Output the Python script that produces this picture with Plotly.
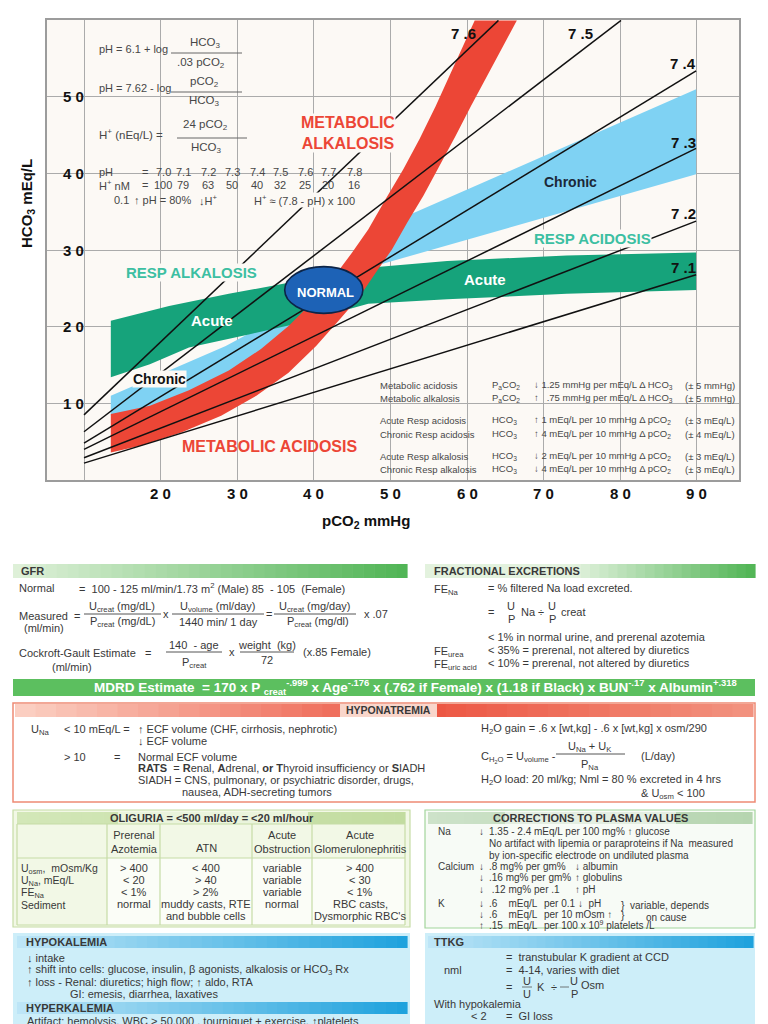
import plotly.graph_objects as go

W, H = 768, 1024
FONT = "Liberation Sans, Arial, Helvetica, sans-serif"
NARROW = "Liberation Sans Narrow, Liberation Sans, Arial, sans-serif"
CREAM = "#fcf9f5"
TXT = "#383838"

# ---------------- data ----------------
# pH isopleths: start / end points (pCO2 mmHg, HCO3 mEq/L)
ph_labels = ["7 .6", "7 .5", "7 .4", "7 .3", "7 .2", "7 .1"]
ph_x0 = [10, 10, 10, 10, 10, 10]
ph_y0 = [8.5, 6.3, 4.8, 4.0, 2.9, 2.2]
ph_x1 = [64.1, 80.1, 89.9, 89.9, 89.9, 89.9]
ph_y1 = [60.0, 60.0, 53.4, 43.3, 33.8, 26.8]

# metabolic band (red): upper-left edge then lower-right edge
met_up_x = [13.5, 18.6, 23.7, 28.9, 33.1, 36.7, 39.8, 42.4, 45.0, 47.1, 49.4, 51.7, 53.8, 55.9, 57.9, 59.7, 61.0]
met_up_y = [8.6, 9.7, 11.7, 14.3, 17.1, 20.1, 23.2, 26.2, 29.7, 32.7, 36.7, 40.6, 44.5, 48.8, 53.2, 57.1, 60.0]
met_lo_x = [66.5, 64.7, 62.6, 60.5, 58.5, 56.4, 54.3, 52.2, 50.2, 48.1, 46.0, 43.4, 40.3, 36.7, 32.5, 27.9, 22.7, 17.5, 13.5]
met_lo_y = [60.0, 56.7, 52.7, 48.8, 44.9, 41.0, 37.1, 33.6, 30.1, 27.1, 24.0, 21.0, 17.5, 14.0, 11.0, 8.4, 6.2, 4.5, 3.6]

# chronic respiratory band (light blue)
chr_up_x = [13.5, 18.6, 23.7, 28.5, 35.0, 42.0, 47.0, 52.2, 89.9]
chr_up_y = [11.0, 13.2, 15.4, 17.5, 21.0, 26.0, 30.0, 34.5, 51.0]
chr_lo_x = [89.9, 47.5, 44.0, 40.0, 33.0, 25.0, 13.5]
chr_lo_y = [39.9, 27.8, 24.0, 18.0, 13.0, 10.0, 8.4]

# acute respiratory band (green)
acu_up_x = [13.5, 21.1, 28.9, 35.7, 47.1, 57.4, 73.0, 89.9]
acu_up_y = [20.8, 22.7, 24.3, 25.6, 27.7, 28.6, 29.3, 29.7]
acu_lo_x = [89.9, 73.0, 57.4, 47.1, 37.7, 31.5, 23.7, 18.6, 13.5]
acu_lo_y = [24.8, 24.3, 23.6, 23.0, 20.4, 19.0, 17.3, 15.1, 13.4]

# normal ellipse (centre and half-axes)
normal_cx, normal_cy = 41.3, 24.8
normal_rx, normal_ry = 5.1, 3.05

x_ticks = [20, 30, 40, 50, 60, 70, 80, 90]
y_ticks = [10, 20, 30, 40, 50]

ph_table = ["7.0", "7.1", "7.2", "7.3", "7.4", "7.5", "7.6", "7.7", "7.8"]
hplus_table = ["100", "79", "63", "50", "40", "32", "25", "20", "16"]

comp_rows = [
    ("Metabolic acidosis", "P<sub>a</sub>CO<sub>2</sub>", "↓ 1.25 mmHg per mEq/L Δ HCO<sub>3</sub>", "(± 5 mmHg)"),
    ("Metabolic alkalosis", "P<sub>a</sub>CO<sub>2</sub>", "↑   .75 mmHg per mEq/L Δ HCO<sub>3</sub>", "(± 5 mmHg)"),
    ("Acute Resp acidosis", "HCO<sub>3</sub>", "↑ 1 mEq/L per 10 mmHg Δ pCO<sub>2</sub>", "(± 3 mEq/L)"),
    ("Chronic Resp acidosis", "HCO<sub>3</sub>", "↑ 4 mEq/L per 10 mmHg Δ pCO<sub>2</sub>", "(± 4 mEq/L)"),
    ("Acute Resp alkalosis", "HCO<sub>3</sub>", "↓ 2 mEq/L per 10 mmHg Δ pCO<sub>2</sub>", "(± 3 mEq/L)"),
    ("Chronic Resp alkalosis", "HCO<sub>3</sub>", "↓ 4 mEq/L per 10 mmHg Δ pCO<sub>2</sub>", "(± 3 mEq/L)"),
]

olig_cols = ["Prerenal<br>Azotemia", "ATN", "Acute<br>Obstruction", "Acute<br>Glomerulonephritis"]
olig_rows = ["U<sub>osm</sub>,  mOsm/Kg", "U<sub>Na</sub>, mEq/L", "FE<sub>Na</sub>", "Sediment"]
olig_vals = [
    ["&gt; 400", "&lt; 20", "&lt; 1%", "normal"],
    ["&lt; 400", "&gt; 40", "&gt; 2%", "muddy casts, RTE", "and bubble cells"],
    ["variable", "variable", "variable", "normal"],
    ["&gt; 400", "&lt; 30", "&lt; 1%", "RBC casts,", "Dysmorphic RBC's"],
]

# ---------------- helpers (pixel placement on the page) ----------------
ann, shapes = [], []


def P(px):
    return px / W


def Q(py):
    return 1 - py / H


def T(x, y, s, size=11, color=TXT, anchor="left", family=FONT, bg=None, bold=False, angle=0):
    if bold:
        s = "<b>" + s + "</b>"
    d = dict(xref="paper", yref="paper", x=P(x), y=Q(y), text=s, showarrow=False,
             xanchor=anchor, yanchor="middle", borderpad=0,
             font=dict(family=family, size=size, color=color))
    if bg:
        d["bgcolor"] = bg
    if angle:
        d["textangle"] = angle
    ann.append(d)


def R(x0, y0, x1, y1, fill=None, line=None, lw=1, layer="below"):
    shapes.append(dict(type="rect", xref="paper", yref="paper", x0=P(x0), x1=P(x1), y0=Q(y0), y1=Q(y1),
                       fillcolor=fill or "rgba(0,0,0,0)",
                       line=dict(color=line or "rgba(0,0,0,0)", width=lw if line else 0), layer=layer))


def L(x0, y0, x1, y1, color="#555555", lw=1, layer="above"):
    shapes.append(dict(type="line", xref="paper", yref="paper", x0=P(x0), x1=P(x1), y0=Q(y0), y1=Q(y1),
                       line=dict(color=color, width=lw), layer=layer))


def _hex(c):
    c = c.lstrip("#")
    return [int(c[i:i + 2], 16) for i in (0, 2, 4)]


def _col(stops, t):
    for (t0, c0), (t1, c1) in zip(stops[:-1], stops[1:]):
        if t0 <= t <= t1:
            f = 0 if t1 == t0 else (t - t0) / (t1 - t0)
            a, b = _hex(c0), _hex(c1)
            return "rgb(%d,%d,%d)" % tuple(round(a[i] + (b[i] - a[i]) * f) for i in range(3))
    return stops[-1][1]


def G(x0, y0, x1, y1, stops, n=36):
    w = (x1 - x0) / n
    for i in range(n):
        R(x0 + i * w, y0, x0 + (i + 1) * w + 0.6, y1, fill=_col(stops, (i + 0.5) / n))


# ---------------- chart traces ----------------
fig = go.Figure()
fig.add_trace(go.Scatter(x=chr_up_x + chr_lo_x, y=chr_up_y + chr_lo_y, fill="toself",
                         fillcolor="#7fd2f3", line=dict(width=0), mode="lines", hoverinfo="skip"))
fig.add_trace(go.Scatter(x=acu_up_x + acu_lo_x, y=acu_up_y + acu_lo_y, fill="toself",
                         fillcolor="#16a37b", line=dict(width=0), mode="lines", hoverinfo="skip"))
fig.add_trace(go.Scatter(x=met_up_x + met_lo_x, y=met_up_y + met_lo_y, fill="toself",
                         fillcolor="#ec4636", line=dict(width=0), mode="lines", hoverinfo="skip"))
for i in range(len(ph_labels)):
    fig.add_trace(go.Scatter(x=[ph_x0[i], ph_x1[i]], y=[ph_y0[i], ph_y1[i]], mode="lines",
                             line=dict(color="#111111", width=1.5), hoverinfo="skip"))

shapes.append(dict(type="circle", xref="x", yref="y",
                   x0=normal_cx - normal_rx, x1=normal_cx + normal_rx,
                   y0=normal_cy - normal_ry, y1=normal_cy + normal_ry,
                   fillcolor="#1d62b6", line=dict(color="#0c2447", width=1.6), layer="above"))

# ---------------- chart text ----------------
CT = "#474747"
CS = 11.5
T(98, 49, "pH = 6.1 + log", color=CT, size=11)
T(205, 43, "HCO<sub>3</sub>", color=CT, anchor="center", size=CS)
L(171, 53, 242, 53, color="#666666")
T(201, 63, ".03 pCO<sub>2</sub>", color=CT, anchor="center", size=CS)
T(98, 88, "pH = 7.62 - log", color=CT, size=11)
T(204, 82, "pCO<sub>2</sub>", color=CT, anchor="center", size=CS)
L(171, 92, 242, 92, color="#666666")
T(204, 101, "HCO<sub>3</sub>", color=CT, anchor="center", size=CS)
T(98, 134, "H<sup>+</sup> (nEq/L) =", color=CT, size=CS)
T(205, 125, "24 pCO<sub>2</sub>", color=CT, anchor="center", size=CS)
L(177, 138, 247, 138, color="#666666")
T(206, 148, "HCO<sub>3</sub>", color=CT, anchor="center", size=CS)
T(98, 172, "pH", color=CT)
T(141, 172, "=", color=CT)
T(98, 185, "H<sup>+</sup> nM", color=CT)
T(141, 185, "=", color=CT)
ph_pos = [163, 183, 208, 232, 257, 280, 305, 328, 354]
for px, a, b in zip(ph_pos, ph_table, hplus_table):
    T(px, 172, a, color=CT, anchor="center")
    T(px, 185, b, color=CT, anchor="center")
T(113, 200, "0.1", color=CT)
T(133, 200, "↑ pH = 80%", color=CT)
T(198, 200, "↓H<sup>+</sup>", color=CT)
T(253, 200, "H<sup>+</sup> ≈ (7.8 - pH) x 100", color=CT, bg=CREAM)

RED = "#ec4636"
TEAL = "#3cbfa2"
T(348, 133, "METABOLIC<br>ALKALOSIS", size=16, color=RED, anchor="center", bold=True, bg=CREAM)
T(191, 272, "RESP ALKALOSIS", size=15, color=TEAL, anchor="center", bold=True, bg=CREAM)
T(592, 238, "RESP ACIDOSIS", size=15, color=TEAL, anchor="center", bold=True, bg=CREAM)
T(570, 182, "Chronic", size=14, color="#1b2838", anchor="center", bold=True)
T(159, 379, "Chronic", size=14, color="#111111", anchor="center", bold=True, bg=CREAM)
T(212, 320, "Acute", size=15, color="white", anchor="center", bold=True)
T(485, 279, "Acute", size=15, color="white", anchor="center", bold=True)
T(325, 292, "NORMAL", size=13, color="white", anchor="center", bold=True)
T(269, 446, "METABOLIC ACIDOSIS", size=16, color=RED, anchor="center", bold=True)

ph_lab_pos = [(463, 33), (580, 33), (683, 63), (683, 142), (683, 213), (683, 267)]
for lab, (px, py) in zip(ph_labels, ph_lab_pos):
    T(px, py, lab, size=15, color="#111111", anchor="center", bold=True)

row_y = [385, 398, 420, 434, 456, 469]
MS = 9.5
for (a, b, c, d), py in zip(comp_rows, row_y):
    T(379, py, a, size=MS, color=CT, family=NARROW)
    T(491, py, b, size=MS, color=CT, family=NARROW)
    T(533, py, c, size=MS, color=CT, family=NARROW)
    T(684, py, d, size=MS, color=CT, family=NARROW)

# axis titles & tick labels
T(27, 204, "HCO<sub>3</sub> mEq/L", size=15, color="#111111", anchor="center", bold=True, angle=-90)
T(366, 521, "pCO<sub>2</sub> mmHg", size=15, color="#111111", anchor="center", bold=True)
for v in x_ticks:
    ann.append(dict(xref="x", yref="paper", x=v, y=Q(493), text="<b>%s %s</b>" % (str(v)[0], str(v)[1]),
                    showarrow=False, xanchor="center", yanchor="middle",
                    font=dict(family=FONT, size=15, color="#111111")))
for v in y_ticks:
    ann.append(dict(xref="x", yref="y", x=10.2, y=v, text="<b>%s %s</b>" % (str(v)[0], str(v)[1]),
                    showarrow=False, xanchor="right", yanchor="middle",
                    font=dict(family=FONT, size=15, color="#111111")))

# ---------------- lower panels ----------------
GREEN_STOPS = [(0, "#e0f1da"), (1, "#4fb454")]
# GFR
G(13, 564, 407, 578, GREEN_STOPS)
T(20, 571, "GFR", bold=True)
T(18, 588, "Normal")
T(78, 588, "=  100 - 125 ml/min/1.73 m<sup>2</sup> (Male) 85  - 105  (Female)")
T(18, 616, "Measured  =")
T(23, 628, "(ml/min)")
T(122, 607, "U<sub>creat</sub> (mg/dL)", anchor="center")
L(84, 614, 161, 614)
T(122, 622, "P<sub>creat</sub> (mg/dL)", anchor="center")
T(166, 614, "x", anchor="center")
T(218, 607, "U<sub>volume</sub> (ml/day)", anchor="center")
L(172, 614, 264, 614)
T(218, 622, "1440 min/ 1 day", anchor="center")
T(269, 614, "=", anchor="center")
T(315, 607, "U<sub>creat</sub> (mg/day)", anchor="center")
L(274, 614, 356, 614)
T(318, 622, "P<sub>creat</sub> (mg/dl)", anchor="center")
T(363, 614, "x .07")
T(18, 653, "Cockroft-Gault Estimate   =")
T(51, 667, "(ml/min)")
T(194, 645, "140  - age", anchor="center")
L(166, 652, 222, 652)
T(194, 663, "P<sub>creat</sub>", anchor="center")
T(232, 652, "x", anchor="center")
T(267, 645, "weight  (kg)", anchor="center")
L(240, 652, 294, 652)
T(267, 660, "72", anchor="center")
T(302, 652, "(x.85 Female)")

# Fractional excretions
G(425, 564, 755, 578, [(0, "#e3f2de"), (0.45, "#e3f2de"), (1, "#4fb454")])
T(433, 571, "FRACTIONAL EXCRETIONS", bold=True)
T(433, 590, "FE<sub>Na</sub>")
T(487, 588, "= % filtered Na load excreted.")
T(487, 612, "=")
T(511, 606, "U", anchor="center")
T(511, 619, "P", anchor="center")
T(520, 612, "Na ÷")
T(552, 606, "U", anchor="center")
T(552, 619, "P", anchor="center")
T(560, 612, "creat")
T(487, 637, "&lt; 1% in normal urine, and prerenal azotemia")
T(433, 652, "FE<sub>urea</sub>")
T(487, 650, "&lt; 35% = prerenal, not altered by diuretics")
T(433, 665, "FE<sub>uric acid</sub>")
T(487, 663, "&lt; 10% = prerenal, not altered by diuretics")

# MDRD bar
R(13, 679, 755, 696, fill="#5cbf5f")
T(415, 687, "MDRD Estimate  = 170 x P <sub>creat</sub><sup>-.999</sup> x Age<sup>-.176</sup> x (.762 if Female) x (1.18 if Black) x BUN<sup>-.17</sup> x Albumin<sup>+.318</sup>",
  size=13.5, color="white", anchor="center", bold=True)

# Hyponatremia
R(13, 703, 755, 802, fill="white", line="#ee8a74", lw=1.5)
G(15, 704, 753, 717, [(0, "#fbd1c4"), (0.55, "#ec5440"), (1, "#f29380")])
R(340, 704, 437, 717, fill="#f9d6cb")
T(388, 710, "HYPONATREMIA", size=10.5, anchor="center", bold=True)
T(30, 730, "U<sub>Na</sub>")
T(63, 729, "&lt; 10 mEq/L =")
T(137, 729, "↑ ECF volume (CHF, cirrhosis, nephrotic)")
T(137, 741, "↓ ECF volume")
T(63, 757, "&gt; 10")
T(113, 757, "=")
T(137, 757, "Normal ECF volume")
T(137, 768, "<b>RATS</b>  = <b>R</b>enal, <b>A</b>drenal, <b>or T</b>hyroid insufficiency or <b>S</b>IADH")
T(137, 780, "SIADH = CNS, pulmonary, or psychiatric disorder, drugs,")
T(181, 792, "nausea, ADH-secreting tumors")
T(480, 729, "H<sub>2</sub>O gain = .6 x [wt,kg] - .6 x [wt,kg] x osm/290")
T(480, 757, "C<sub>H<sub>2</sub>O</sub> = U<sub>volume</sub> -")
T(590, 747, "U<sub>Na</sub> + U<sub>K</sub>", anchor="center")
L(556, 754, 625, 754)
T(590, 765, "P<sub>Na</sub>", anchor="center")
T(640, 756, "(L/day)")
T(480, 780, "H<sub>2</sub>O load: 20 ml/kg; Nml = 80 % excreted in 4 hrs")
T(640, 794, "&amp; U<sub>osm</sub> &lt; 100")

# Oliguria table
R(13, 810, 410, 927, fill="#f2f8e6", line="#c6dca6", lw=1.2)
G(17, 812, 405, 824, [(0, "#d3e7b8"), (1, "#c2dca0")])
R(118, 812, 308, 824, fill="#eaf4dc")
T(212, 818, "OLIGURIA = &lt;500 ml/day = &lt;20 ml/hour", anchor="center", bold=True)
R(107, 858, 405, 925, fill="#fbfdf7")
col_x = [17, 107, 160, 252, 312, 405]
for cx in col_x[1:-1]:
    L(cx, 824, cx, 925, color="#c6dca6", lw=1.2, layer="below")
L(17, 858, 405, 858, color="#c6dca6", lw=1.2, layer="below")
L(17, 824, 405, 824, color="#c6dca6", lw=1.2, layer="below")
L(17, 925, 405, 925, color="#c6dca6", lw=1.2, layer="below")
L(17, 824, 17, 925, color="#c6dca6", lw=1.2, layer="below")
L(405, 824, 405, 925, color="#c6dca6", lw=1.2, layer="below")
col_c = [134, 206, 282, 360]
for cc, name in zip(col_c, olig_cols):
    T(cc, 842 if "<br>" in name else 848, name, anchor="center")
body_y = [868, 880, 892, 904, 916]
for i, name in enumerate(olig_rows):
    T(20, body_y[i] + 1, name, size=10.5)
for cc, vals in zip(col_c, olig_vals):
    for i, v in enumerate(vals):
        T(cc, body_y[i], v, anchor="center")

# Corrections to plasma values
CS2 = 10
R(425, 810, 755, 928, fill="#f7fbf6", line="#a2d59c", lw=1.2)
G(428, 812, 752, 824, [(0, "#cde2c9"), (1, "#b6d5b0")])
R(505, 812, 676, 824, fill="#e4efe2")
T(590, 818, "CORRECTIONS TO PLASMA VALUES", anchor="center", bold=True)
corr = [
    (831, "Na", "↓", "1.35 - 2.4 mEq/L per 100 mg% ↑ glucose"),
    (843, "", "", "No artifact with lipemia or paraproteins if Na  measured"),
    (855, "", "", "by ion-specific electrode on undiluted plasma"),
    (866, "Calcium", "↓", ".8 mg% per gm%"),
    (877, "", "↓", ".16 mg% per gm%"),
    (889, "", "↓", " .12 mg% per .1"),
    (903, "K", "↓", ".6    mEq/L"),
    (914, "", "↓", ".6    mEq/L"),
    (925, "", "↑", ".15  mEq/L"),
]
for py, lab, arr, s in corr:
    if lab:
        T(437, py, lab, size=CS2)
    if arr:
        T(481, py, arr, anchor="center", size=CS2)
    T(488, py, s, size=CS2)
T(574, 866, "↓ albumin", size=CS2)
T(574, 877, "↑ globulins", size=CS2)
T(574, 889, "↑ pH", size=CS2)
T(543, 903, "per 0.1 ↓  pH", size=CS2)
T(543, 914, "per 10 mOsm ↑", size=CS2)
T(543, 925, "per 100 x 10<sup>9</sup> platelets /L", size=CS2)
T(620, 905, "}", size=10.5)
T(620, 915, "}", size=10.5)
T(629, 905, "variable, depends", size=CS2)
T(645, 917, "on cause", size=CS2)

# Hypokalemia / Hyperkalemia
BLUE_STOPS = [(0, "#bfe6f7"), (1, "#1da1dd")]
R(13, 933, 410, 1030, fill="#cdeef9")
G(17, 936, 407, 948, BLUE_STOPS)
T(25, 942, "HYPOKALEMIA", bold=True)
T(26, 958, "↓ intake")
T(26, 970, "↑ shift into cells: glucose, insulin, β agonists, alkalosis or HCO<sub>3</sub> Rx")
T(26, 982, "↑ loss - Renal: diuretics; high flow; ↑ aldo, RTA")
T(69, 994, "GI: emesis, diarrhea, laxatives")
G(17, 1002, 407, 1014, BLUE_STOPS)
T(25, 1008, "HYPERKALEMIA", bold=True)
T(26, 1021, "Artifact: hemolysis, WBC &gt; 50,000 , tourniquet + exercise, ↑platelets")

# TTKG
R(425, 933, 755, 1030, fill="#cdeef9")
G(428, 936, 753, 948, BLUE_STOPS)
T(433, 942, "TTKG", bold=True)
T(505, 957, "=  transtubular K gradient at CCD")
T(443, 970, "nml")
T(505, 970, "=  4-14, varies with diet")
T(505, 987, "=")
T(527, 981, "U", anchor="center")
L(522, 987, 532, 987, color="#555555", lw=0.8)
T(527, 994, "U", anchor="center")
T(536, 987, "K")
T(550, 987, "÷")
L(560, 987, 569, 987, color="#555555", lw=0.8)
T(574, 981, "U", anchor="center")
T(574, 994, "P", anchor="center")
T(580, 985, "Osm")
T(433, 1004, "With hypokalemia")
T(470, 1016, "&lt; 2")
T(505, 1016, "=  GI loss")

# ---------------- layout ----------------
fig.update_layout(
    width=W, height=H, margin=dict(l=0, r=0, t=0, b=0),
    paper_bgcolor="white", plot_bgcolor=CREAM, showlegend=False,
    xaxis=dict(domain=[47 / W, 739 / W], range=[5.17, 95.5], tickvals=list(range(10, 100, 10)),
               showticklabels=False, showgrid=True, gridcolor="#ababab", gridwidth=1.2, zeroline=False,
               showline=True, mirror=True, linecolor="#9c9c9c", linewidth=2, ticks=""),
    yaxis=dict(domain=[1 - 480 / H, 1 - 20 / H], range=[0, 60.05], tickvals=[10, 20, 30, 40, 50],
               showticklabels=False, showgrid=True, gridcolor="#ababab", gridwidth=1.2, zeroline=False,
               showline=True, mirror=True, linecolor="#9c9c9c", linewidth=2, ticks=""),
    annotations=ann, shapes=shapes,
)

fig.write_html("out.html")
